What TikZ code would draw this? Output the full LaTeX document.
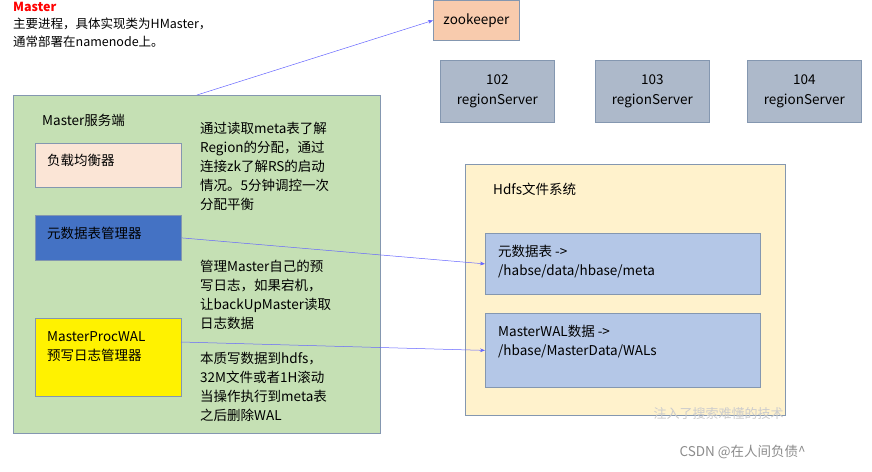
\documentclass[tikz,border=0pt]{standalone}
\usepackage{fontspec}
\setmainfont{Noto Sans CJK SC}
\usetikzlibrary{arrows.meta}
\definecolor{bord}{HTML}{8497B0}
\begin{document}
\begin{tikzpicture}[x=1pt,y=-1pt,
 box/.style={draw=bord,line width=0.8pt,inner sep=0,anchor=north west},
 txt/.style={anchor=north west,inner sep=0,align=left,font=\fontsize{13.5}{19}\selectfont},
 arr/.style={draw=black!0!blue!60!white,line width=0.5pt,-{Stealth[length=5pt]}}]
\useasboundingbox[fill=white] (0,0) rectangle (872,471);
\node[txt,text=red,font=\bfseries\fontsize{12.5}{14}\selectfont] (mt) at (13,2) {Master};
\node[txt,font=\fontsize{12.5}{18}\selectfont] (md) at (13,18) {主要进程，具体实现类为HMaster，\\通常部署在namenode上。};
\node[box,fill={rgb,255:red,248;green,203;blue,173},minimum width=86,minimum height=40,font=\fontsize{13.5}{16}\selectfont] (zk) at (433,0) {zookeeper};
\foreach \x/\n/\nm in {440/102/r1,595/103/r2,747/104/r3}
 \node[box,fill={rgb,255:red,173;green,185;blue,202},minimum width=114,minimum height=62,align=center,font=\fontsize{13.5}{20}\selectfont] (\nm) at (\x,60) {\n\\regionServer};
\node[box,fill={rgb,255:red,197;green,224;blue,180},minimum width=367,minimum height=338] (g) at (13,95) {};
\node[txt] (gl) at (42,114) {Master服务端};
\node[box,fill={rgb,255:red,251;green,229;blue,214},minimum width=146,minimum height=44] (lb) at (35,143) {};
\node[txt] at (47,154) {负载均衡器};
\node[box,fill={rgb,255:red,68;green,114;blue,196},minimum width=146,minimum height=45] (meta) at (35,215) {};
\node[txt] at (47,227) {元数据表管理器};
\node[box,fill=yellow,minimum width=146,minimum height=78] (wal) at (35,318) {};
\node[txt] at (47,331) {MasterProcWAL\\预写日志管理器};
\node[txt] (t1) at (200,122) {通过读取meta表了解\\Region的分配，通过\\连接zk了解RS的启动\\情况。5分钟调控一次\\分配平衡};
\node[txt] (t2) at (200,260) {管理Master自己的预\\写日志，如果宕机，\\让backUpMaster读取\\日志数据};
\node[txt] (t3) at (200,352) {本质写数据到hdfs，\\32M文件或者1H滚动\\当操作执行到meta表\\之后删除WAL};
\node[box,fill={rgb,255:red,255;green,242;blue,204},minimum width=320,minimum height=251] (h) at (465,164) {};
\node[txt] at (493,183) {Hdfs文件系统};
\node[box,fill={rgb,255:red,180;green,199;blue,231},minimum width=275,minimum height=61] (hm) at (485,233) {};
\node[txt] at (498,245) {元数据表 ->\\/habse/data/hbase/meta};
\node[box,fill={rgb,255:red,180;green,199;blue,231},minimum width=275,minimum height=74] (hw) at (485,313) {};
\node[txt] at (498,325) {MasterWAL数据 ->\\ /hbase/MasterData/WALs};
\node[anchor=west,text=black!20,font=\itshape\fontsize{13}{14}\selectfont] (wm) at (650,414) {注入了搜索难懂的技术};
\node[anchor=west,text=black!45,font=\fontsize{13.5}{15}\selectfont] (cs) at (676,452) {CSDN @在人间负债\^{}};
\draw[arr] (g.north -| 197,95) -- (zk.west);
\draw[arr] (meta.east) -- (hm.west);
\draw[arr] (181,342) -- (hw.west);
\end{tikzpicture}
\end{document}
